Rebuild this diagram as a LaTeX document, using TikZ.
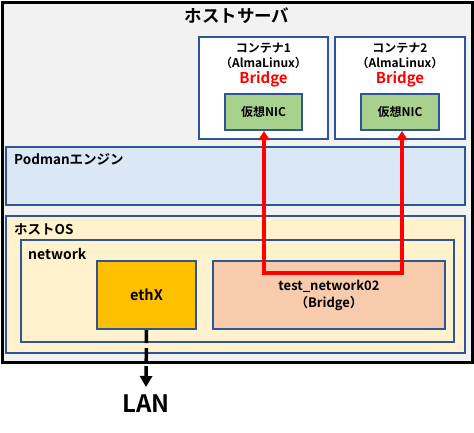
\documentclass[tikz,border=0pt]{standalone}
\usepackage{fontspec}
\setmainfont{Noto Sans CJK JP}[BoldFont={* Bold}]
\usetikzlibrary{arrows.meta}
\definecolor{bdr}{HTML}{2F5597}
\definecolor{srvfill}{HTML}{F2F2F2}
\definecolor{podfill}{HTML}{DAE8F5}
\definecolor{osfill}{HTML}{FFF2CC}
\definecolor{nicfill}{HTML}{A9D18E}
\definecolor{ethfill}{HTML}{FFC000}
\definecolor{brfill}{HTML}{F8CBAD}
\definecolor{redarrow}{HTML}{FF0000}
\tikzset{
  box/.style={draw=bdr, line width=2pt},
  lbl/.style={inner sep=0pt, font=\bfseries\fontsize{13.5}{15}\selectfont, align=center},
  ctext/.style={inner sep=0pt, font=\bfseries\fontsize{12}{14}\selectfont, align=center},
  brtext/.style={inner sep=0pt, text=redarrow, font=\bfseries\fontsize{15}{17}\selectfont},
  nicbox/.style={box, fill=nicfill, minimum width=77pt, minimum height=36pt, inner sep=0pt, font=\bfseries\fontsize{12}{14}\selectfont},
  redln/.style={draw=redarrow, line width=3.5pt, line join=miter, {Triangle[length=9pt,width=11pt]}-{Triangle[length=9pt,width=11pt]}},
}
\begin{document}
\begin{tikzpicture}[x=1pt,y=-1pt]
\useasboundingbox (0,0) rectangle (474,432);
\fill[white] (0,0) rectangle (474,432);
% host server
\draw[fill=srvfill, line width=3pt] (2,2) rectangle (472,362);
\node[lbl, font=\bfseries\fontsize{17.5}{20}\selectfont] (srv) at (237,15.5) {ホストサーバ};
% containers
\draw[box, fill=white] (199,37) rectangle (328,139);
\draw[box, fill=white] (335,37) rectangle (465,139);
\node[ctext] (c1a) at (263.5,48) {コンテナ1};
\node[ctext] (c1b) at (263.5,63) {（AlmaLinux）};
\node[brtext] (c1c) at (263.5,79) {Bridge};
\node[ctext] (c2a) at (400,48) {コンテナ2};
\node[ctext] (c2b) at (400,63) {（AlmaLinux）};
\node[brtext] (c2c) at (400,79) {Bridge};
\node[nicbox] (nic1) at (263.5,112) {仮想NIC};
\node[nicbox, minimum width=78pt] (nic2) at (400,112) {仮想NIC};
% podman
\draw[box, fill=podfill] (6,147) rectangle (465,205);
\node[lbl, anchor=west] (pod) at (14,159) {Podmanエンジン};
% host OS
\draw[box, fill=osfill] (6,216) rectangle (465,353);
\node[lbl, anchor=west] (os) at (14,229) {ホストOS};
\draw[box] (21,240) rectangle (454,342);
\node[lbl, anchor=west, font=\bfseries\fontsize{14}{16}\selectfont] (net) at (28,254) {network};
\node[box, fill=ethfill, minimum width=99pt, minimum height=68pt, inner sep=0pt, font=\bfseries\fontsize{14.5}{16}\selectfont] (eth) at (146.5,295) {ethX};
\node[box, fill=brfill, minimum width=232pt, minimum height=68pt, inner sep=0pt, font=\bfseries\fontsize{13}{17}\selectfont, align=center] (br) at (329,295) {test\_network02\\（Bridge）};
% red connections
\coordinate (j1) at (264,273);
\coordinate (j2) at (402,273);
\draw[redln] (j1 |- nic1.south) -- (j1) -- (j2) -- (j2 |- nic2.south);
% LAN
\node[lbl, font=\bfseries\fontsize{24}{26}\selectfont] (lan) at (146,404) {LAN};
\coordinate (lanend) at (146,387);
\draw[line width=3.5pt, dash pattern=on 13pt off 5pt, -{Triangle[length=11pt,width=12pt]}] (eth.south) -- (lanend);
\end{tikzpicture}
\end{document}
